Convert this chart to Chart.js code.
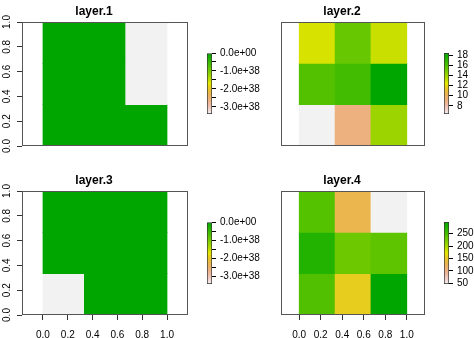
<!DOCTYPE html>
<html>
<head>
<meta charset="utf-8">
<script src="https://cdn.jsdelivr.net/npm/chart.js@4.4.1/dist/chart.umd.min.js"></script>
<style>
  body { margin: 0; background: #fff; }
  #wrap { position: relative; width: 474px; height: 338px; overflow: hidden; background: #fff; }
  canvas { position: absolute; }
</style>
</head>
<body>
<div id="wrap">
  <canvas id="p1" width="237" height="168" style="left:0;top:0"></canvas>
  <canvas id="p2" width="237" height="168" style="left:237px;top:0"></canvas>
  <canvas id="p3" width="237" height="170" style="left:0;top:168px"></canvas>
  <canvas id="p4" width="237" height="170" style="left:237px;top:168px"></canvas>
  <canvas id="l1" width="70" height="85" style="left:200px;top:40px"></canvas>
  <canvas id="l2" width="37" height="85" style="left:437px;top:40px"></canvas>
  <canvas id="l3" width="70" height="85" style="left:200px;top:209px"></canvas>
  <canvas id="l4" width="37" height="85" style="left:437px;top:209px"></canvas>
</div>
<script>
// raster cells, rows listed top to bottom
const colCenters = [1 / 6, 1 / 2, 5 / 6];
const NA_LOW = -3.4e38;
const layer1 = [[0, 0, NA_LOW], [0, 0, NA_LOW], [0, 0, 0]];
const layer2 = [[12.7, 15.3, 13.0], [15.8, 16.3, 18.4], [6.4, 9.2, 14.0]];
const layer3 = [[0, 0, 0], [0, 0, 0], [NA_LOW, 0, 0]];
const layer4 = [[242, 131, 47], [273, 229, 237], [245, 156, 297]];

const axisTicks = [0, 0.2, 0.4, 0.6, 0.8, 1.0];
const axisLabels = ['0.0', '0.2', '0.4', '0.6', '0.8', '1.0'];

const legTicksNA = [0, -0.5e38, -1e38, -1.5e38, -2e38, -2.5e38, -3e38];
const legLabelsNA = ['0.0e+00', '', '-1.0e+38', '', '-2.0e+38', '', '-3.0e+38'];
const legTicks2 = [8, 10, 12, 14, 16, 18];
const legLabels2 = ['8', '10', '12', '14', '16', '18'];
const legTicks4 = [50, 100, 150, 200, 250];
const legLabels4 = ['50', '100', '150', '200', '250'];

Chart.defaults.font.family = '"Liberation Sans", Arial, sans-serif';
Chart.defaults.color = '#000';

// rev(terrain.colors): u = 0 -> green, u = 1 -> light grey
function terrain(u) {
    let h, s, v;
    if (u <= 0.5) {
        const w = u / 0.5;
        h = 120 - 60 * w; s = 1; v = 0.65 + 0.25 * w;
    } else {
        const w = (u - 0.5) / 0.5;
        h = 60 - 60 * w; s = 1 - w; v = 0.9 + 0.05 * w;
    }
    const f = (n) => {
        const k = (n + h / 60) % 6;
        return Math.round(255 * (v - v * s * Math.max(0, Math.min(k, 4 - k, 1))));
    };
    return 'rgb(' + f(5) + ',' + f(3) + ',' + f(1) + ')';
}

function range(grid) {
    const all = grid.flat();
    return [Math.min(...all), Math.max(...all)];
}

const boxPlugin = {
    id: 'box',
    afterDatasetsDraw(chart) {
        const a = chart.chartArea, c = chart.ctx;
        c.save();
        c.strokeStyle = '#555';
        c.lineWidth = 1;
        c.strokeRect(a.left + 0.5, a.top + 0.5, a.right - a.left - 1, a.bottom - a.top - 1);
        c.restore();
    }
};

function fixedTicks(vals) {
    return (s) => { s.ticks = vals.map(v => ({ value: v })); };
}

function panel(id, title, grid, showX, showY) {
    const [lo, hi] = range(grid);
    const datasets = grid.map((row, r) => ({
        data: row.map((v, c) => ({ x: colCenters[c], y: [1 - (r + 1) / 3, 1 - r / 3] })),
        backgroundColor: row.map(v => terrain(1 - (v - lo) / (hi - lo))),
        borderWidth: 0,
        barThickness: 'flex',
        categoryPercentage: 1,
        barPercentage: 1
    }));
    new Chart(document.getElementById(id), {
        type: 'bar',
        data: { datasets },
        plugins: [boxPlugin],
        options: {
            responsive: false,
            animation: false,
            devicePixelRatio: 1,
            layout: { padding: { left: showY ? 0 : 22, right: 49, top: 0, bottom: 0 } },
            plugins: {
                legend: { display: false },
                tooltip: { enabled: false },
                title: {
                    display: true, text: title, color: '#000',
                    font: { size: 12, weight: 'bold', lineHeight: '14px' },
                    padding: showX ? { top: 6, bottom: 3 } : { top: 5, bottom: 3 }
                }
            },
            scales: {
                x: {
                    type: 'linear', stacked: true, offset: false, min: -0.169, max: 1.169,
                    display: showX,
                    afterBuildTicks: fixedTicks(axisTicks),
                    afterFit: (s) => { s.height = showX ? 23 : 22; },
                    border: { display: false },
                    grid: { drawOnChartArea: false, offset: false, tickLength: 5, color: '#333' },
                    ticks: {
                        padding: 9, font: { size: 10 }, maxRotation: 0, autoSkip: false,
                        callback: (v, i) => axisLabels[i]
                    }
                },
                y: {
                    min: 0, max: 1,
                    display: showY,
                    afterBuildTicks: fixedTicks(axisTicks),
                    afterFit: (s) => { s.width = 22; },
                    border: { display: false },
                    grid: { drawOnChartArea: false, tickLength: 5, color: '#333' },
                    ticks: {
                        padding: 3, font: { size: 10 }, minRotation: 90, maxRotation: 90,
                        crossAlign: 'center', autoSkip: false,
                        callback: (v, i) => axisLabels[i]
                    }
                }
            }
        }
    });
}

function legend(id, grid, tickVals, tickLabels, bottomPad) {
    const [lo, hi] = range(grid);
    new Chart(document.getElementById(id), {
        type: 'bar',
        data: {
            labels: [''],
            datasets: [{
                data: [[lo, hi]],
                backgroundColor: (ctx) => {
                    const a = ctx.chart.chartArea;
                    if (!a) return '#ccc';
                    const g = ctx.chart.ctx.createLinearGradient(0, a.bottom, 0, a.top);
                    for (let i = 0; i <= 20; i++) g.addColorStop(i / 20, terrain(1 - i / 20));
                    return g;
                },
                borderColor: '#333',
                borderWidth: 1,
                borderSkipped: false,
                categoryPercentage: 1,
                barPercentage: 1
            }]
        },
        options: {
            responsive: false,
            animation: false,
            devicePixelRatio: 1,
            layout: { padding: { left: 7, right: 0, top: 13, bottom: bottomPad } },
            plugins: { legend: { display: false }, tooltip: { enabled: false } },
            scales: {
                x: { display: false },
                y: {
                    position: 'right', min: lo, max: hi,
                    afterBuildTicks: fixedTicks(tickVals),
                    afterFit: (s) => { s.width = s.chart.width - 12; },
                    border: { display: false },
                    grid: { drawOnChartArea: false, tickLength: 4, color: '#000' },
                    ticks: {
                        padding: 4, font: { size: 10 }, autoSkip: false,
                        callback: (v, i) => tickLabels[i]
                    }
                }
            }
        }
    });
}

panel('p1', 'layer.1', layer1, false, true);
panel('p2', 'layer.2', layer2, false, false);
panel('p3', 'layer.3', layer3, true, true);
panel('p4', 'layer.4', layer4, true, false);
legend('l1', layer1, legTicksNA, legLabelsNA, 11);
legend('l2', layer2, legTicks2, legLabels2, 11);
legend('l3', layer3, legTicksNA, legLabelsNA, 10);
legend('l4', layer4, legTicks4, legLabels4, 10);
</script>
</body>
</html>
